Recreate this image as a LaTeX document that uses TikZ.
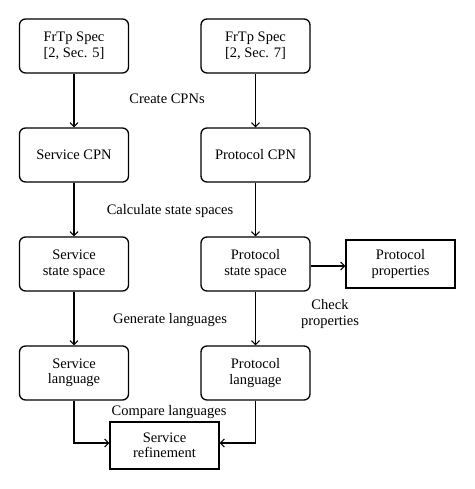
\documentclass[tikz,border=0pt]{standalone}
\usepackage{fontspec}
\setmainfont{Liberation Serif}
\usetikzlibrary{arrows.meta}
\begin{document}
\begin{tikzpicture}[x=1pt,y=-1pt,
  font=\fontsize{14.5}{15.5}\selectfont,
  stepbox/.style={draw,line width=1.3pt,rounded corners=6pt,minimum width=109pt,minimum height=54pt,align=center,inner sep=2pt},
  sqbox/.style={draw,line width=1.3pt,minimum width=109pt,minimum height=48pt,align=center,inner sep=2pt},
  conn/.style={line width=1.1pt,-{Straight Barb[length=4pt,width=8pt,line width=1.1pt]}},
  lbl/.style={inner sep=0pt,align=center}]
\useasboundingbox (0,0) rectangle (474,489);
\node[stepbox] (f1) at (74,46) {FrTp Spec\\{[2, Sec. 5]}};
\node[stepbox] (f2) at (255.5,46) {FrTp Spec\\{[2, Sec. 7]}};
\node[stepbox] (c1) at (74,155) {Service CPN};
\node[stepbox] (c2) at (255.5,155) {Protocol CPN};
\node[stepbox] (s1) at (74,264) {Service\\state space};
\node[stepbox] (s2) at (255.5,264) {Protocol\\state space};
\node[stepbox] (l1) at (74,373) {Service\\language};
\node[stepbox] (l2) at (255.5,373) {Protocol\\language};
\node[sqbox] (pp) at (400.5,264) {Protocol\\properties};
\node[sqbox,minimum height=47pt] (sr) at (164.5,445.5) {Service\\refinement};
\draw[conn] (f1) -- (c1);
\draw[conn] (f2) -- (c2);
\draw[conn] (c1) -- (s1);
\draw[conn] (c2) -- (s2);
\draw[conn] (s1) -- (l1);
\draw[conn] (s2) -- (l2);
\draw[conn] (s2.east |- 0,266) -- (pp.west |- 0,266);
\draw[conn] (l1.south) |- (sr.west |- 0,443);
\draw[conn] (l2.south) |- (sr.east |- 0,443);
\node[lbl] (t1) at (167,99) {Create CPNs};
\node[lbl] (t2) at (170,211) {Calculate state spaces};
\node[lbl] (t3) at (170,320) {Generate languages};
\node[lbl] (t4) at (330,314) {Check\\properties};
\node[lbl] (t5) at (169,412) {Compare languages};
\end{tikzpicture}
\end{document}
